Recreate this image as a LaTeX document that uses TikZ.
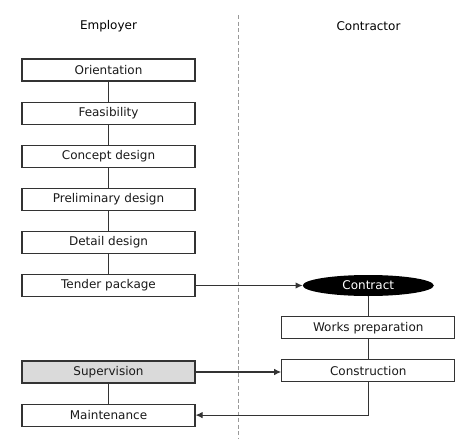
\documentclass[tikz,border=0pt]{standalone}
\usepackage{fontspec}
\setmainfont{DejaVu Sans}
\usetikzlibrary{arrows.meta,shapes.geometric,positioning}
\definecolor{linegray}{HTML}{333333}
\definecolor{supgray}{HTML}{DADADA}

\begin{document}
\begin{tikzpicture}[
        %We set the units and define some styles
        x=1pt, y=-1pt,
        >={Latex[length=7pt,width=6.5pt]},
        stage/.style={draw=linegray, line width=1.1pt, minimum width=173pt, minimum height=22pt, inner sep=0pt, font=\fontsize{12}{14}\selectfont, text=black!90},
        contract/.style={ellipse, fill=black, minimum width=131pt, minimum height=21pt, inner sep=0pt, font=\fontsize{12}{14}\selectfont, text=white},
        link/.style={draw=linegray, line width=1.1pt},
        divider/.style={draw=black!40, dash pattern=on 4pt off 2.5pt, line width=1pt},
        every node/.style={color=black,}
     ]
\useasboundingbox (0,0) rectangle (474,439);
\begin{scope}
% Column headings and the dividing line
    \node (employer) at (108.5,26) {\fontsize{12}{14}\selectfont Employer};
    \node (contractor) at (368.5,26) {\fontsize{12}{14}\selectfont Contractor};
    \coordinate (divtop) at (238,15);
    \coordinate (divbot) at (238,439);
    \draw[divider] (divtop) -- (divbot);

    % Employer stages
    \node[stage] (orient) at (108.5,70) {Orientation};
    \node[stage, below=20pt of orient] (feas) {Feasibility};
    \node[stage, below=20pt of feas] (concept) {Concept design};
    \node[stage, below=20pt of concept] (prelim) {Preliminary design};
    \node[stage, below=20pt of prelim] (detail) {Detail design};
    \node[stage, below=20pt of detail] (tender) {Tender package};
    \node[stage, fill=supgray] (superv) at (108.5,372) {Supervision};
    \node[stage, below=20pt of superv] (maint) {Maintenance};

    % Contractor stages
    \node[contract, right=107pt of tender] (contr) {Contract};
    \node[stage, below=20pt of contr] (works) {Works preparation};
    \node[stage, below=20pt of works] (constr) {Construction};

    % vertical links
    \draw[link] (orient) -- (feas);
    \draw[link] (feas) -- (concept);
    \draw[link] (concept) -- (prelim);
    \draw[link] (prelim) -- (detail);
    \draw[link] (detail) -- (tender);
    \draw[link] (superv) -- (maint);
    \draw[link] (contr) -- (works);
    \draw[link] (works) -- (constr);

    % arrows between the two parties
    \draw[link, ->] (tender) -- (contr);
    \draw[link, ->] (superv) -- (superv -| constr.west);
    \draw[link, ->] (constr.south) |- (maint.east);
\end{scope}
\end{tikzpicture}
\end{document}
